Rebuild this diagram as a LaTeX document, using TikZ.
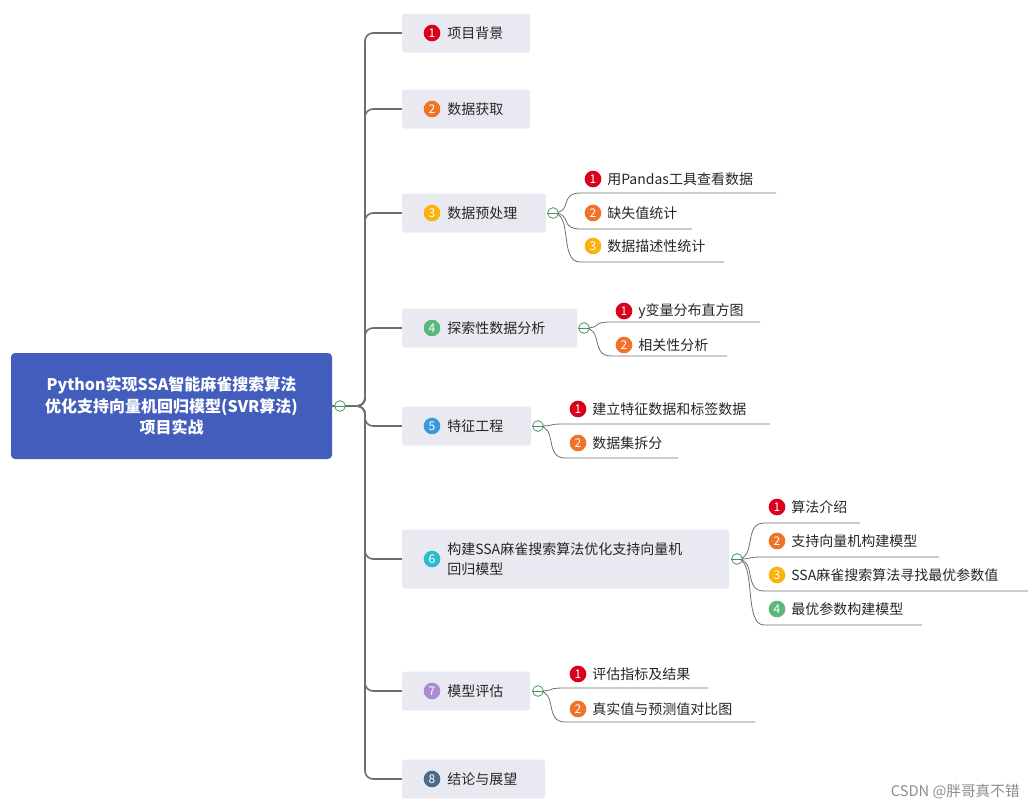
\documentclass[tikz,border=0pt]{standalone}
\usepackage{fontspec}
\setmainfont{Noto Sans CJK SC}
\setsansfont{Noto Sans CJK SC}
\definecolor{rootc}{HTML}{435DBD}
\definecolor{boxc}{HTML}{E9EAF1}
\definecolor{linec}{HTML}{6E6E6E}
\definecolor{c1}{HTML}{D9001B}
\definecolor{c2}{HTML}{F07427}
\definecolor{c3}{HTML}{FBB20F}
\definecolor{c4}{HTML}{5CB87A}
\definecolor{c5}{HTML}{3B9BDA}
\definecolor{c6}{HTML}{2EBBCF}
\definecolor{c7}{HTML}{A98BD0}
\definecolor{c8}{HTML}{4C6A8A}
\tikzset{
 x=0.75pt,y=-0.75pt,
 txt/.style={anchor=west,inner sep=0,font=\fontsize{10.5}{12}\selectfont,text=black!85},
 num/.style={circle,fill=#1,text=white,inner sep=0,minimum size=12.5pt,font=\fontsize{9}{9}\selectfont},
 box/.style={fill=boxc,rounded corners=2pt,inner sep=0},
 jn/.style={circle,draw=c4!80!black,fill=white,inner sep=0,minimum size=8pt,line width=0.6pt},
 trunk/.style={draw=linec,line width=1.2pt,rounded corners=6pt},
 sub/.style={draw=linec,line width=0.6pt},
}
\newcommand{\cbox}[8]{% name x1 x2 yc h color num text
 \path[box] (#2,#4-#5/2) rectangle (#3,#4+#5/2);
 \node[num=#6] (#1n) at (432,#4) {#7};
 \node[txt] (#1) at (447,#4) {#8};
 \coordinate (#1w) at (#2,#4);
}
\newcommand{\sline}[4]{% jx jy yline xend
 \draw[sub] (#1,#2) .. controls (#1+20,#2) and (#1+6,#3) .. (#1+27,#3) -- (#4,#3);
}
\begin{document}
\begin{tikzpicture}
\useasboundingbox (0,0) rectangle (1036,811);
% root
\node[fill=rootc,rounded corners=3pt,minimum width=240.75pt,minimum height=79.5pt,inner sep=0,text=white,align=center,font=\fontsize{12}{16}\selectfont\bfseries] (root) at (171.5,406) {Python实现SSA智能麻雀搜索算法\\优化支持向量机回归模型(SVR算法)\\项目实战};
% trunk
\foreach \y in {33,109,213,328,426,559,691,779}
 \draw[trunk] (root.east) -- (365,406) -- (365,\y) -- (402,\y);
\node[jn] (rj) at (340,406) {};
\draw[line width=0.6pt,c4!80!black] (rj.west) -- (rj.east);
% children
\cbox{a}{402}{530}{33}{39}{c1}{1}{项目背景}
\cbox{b}{402}{530}{109}{39}{c2}{2}{数据获取}
\cbox{c}{402}{546}{213}{39}{c3}{3}{数据预处理}
\cbox{d}{402}{577}{328}{39}{c4}{4}{探索性数据分析}
\cbox{e}{402}{531}{426}{39}{c5}{5}{特征工程}
\cbox{f}{402}{729}{559}{59}{c6}{6}{\parbox[c]{205pt}{\baselineskip=15pt 构建SSA麻雀搜索算法优化支持向量机\\回归模型}}
\cbox{g}{402}{530}{691}{39}{c7}{7}{模型评估}
\cbox{h}{402}{545}{779}{39}{c8}{8}{结论与展望}
% group c
\sline{553}{213}{193}{776}\sline{553}{213}{229}{692}\sline{553}{213}{262}{724}
\node[num=c1] (c1n) at (593,179) {1}; \node[txt] (c1t) at (607,179) {用Pandas工具查看数据};
\node[num=c2] (c2n) at (593,213) {2}; \node[txt] (c2t) at (607,213) {缺失值统计};
\node[num=c3] (c3n) at (593,246) {3}; \node[txt] (c3t) at (607,246) {数据描述性统计};
\node[jn] (cj) at (553,213) {}; \draw[line width=0.6pt,c4!80!black] (cj.west) -- (cj.east);
% group d
\sline{584}{328}{322}{760}\sline{584}{328}{356}{727}
\node[num=c1] (d1n) at (624,311) {1}; \node[txt] (d1t) at (638,311) {y变量分布直方图};
\node[num=c2] (d2n) at (624,345) {2}; \node[txt] (d2t) at (638,345) {相关性分析};
\node[jn] (dj) at (584,328) {}; \draw[line width=0.6pt,c4!80!black] (dj.west) -- (dj.east);
% group e
\sline{538}{426}{424}{770}\sline{538}{426}{458}{678}
\node[num=c1] (e1n) at (578,409) {1}; \node[txt] (e1t) at (592,409) {建立特征数据和标签数据};
\node[num=c2] (e2n) at (578,443) {2}; \node[txt] (e2t) at (592,443) {数据集拆分};
\node[jn] (ej) at (538,426) {}; \draw[line width=0.6pt,c4!80!black] (ej.west) -- (ej.east);
% group f
\sline{737}{559}{523}{860}\sline{737}{559}{557}{939}\sline{737}{559}{591}{1028}\sline{737}{559}{625}{922}
\node[num=c1] (f1n) at (777,507) {1}; \node[txt] (f1t) at (791,507) {算法介绍};
\node[num=c2] (f2n) at (777,541) {2}; \node[txt] (f2t) at (791,541) {支持向量机构建模型};
\node[num=c3] (f3n) at (777,575) {3}; \node[txt] (f3t) at (791,575) {SSA麻雀搜索算法寻找最优参数值};
\node[num=c4] (f4n) at (777,609) {4}; \node[txt] (f4t) at (791,609) {最优参数构建模型};
\node[jn] (fj) at (737,559) {}; \draw[line width=0.6pt,c4!80!black] (fj.west) -- (fj.east);
% group g
\sline{538}{691}{688}{708}\sline{538}{691}{722}{755}
\node[num=c1] (g1n) at (578,674) {1}; \node[txt] (g1t) at (592,674) {评估指标及结果};
\node[num=c2] (g2n) at (578,709) {2}; \node[txt] (g2t) at (592,709) {真实值与预测值对比图};
\node[jn] (gj) at (538,691) {}; \draw[line width=0.6pt,c4!80!black] (gj.west) -- (gj.east);
% watermark
\node[anchor=east,inner sep=0,text=black!45,font=\fontsize{11}{12}\selectfont] (wm) at (1020,792) {CSDN @胖哥真不错};
\end{tikzpicture}
\end{document}
